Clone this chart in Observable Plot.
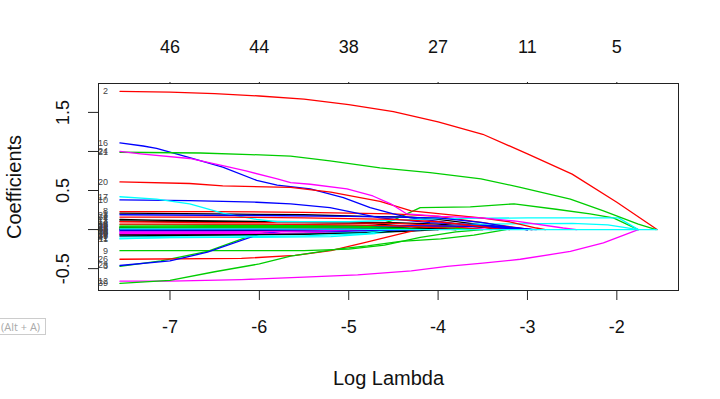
<!DOCTYPE html>
<html><head><meta charset="utf-8">
<script src="https://cdn.jsdelivr.net/npm/d3@7"></script>
<script src="https://cdn.jsdelivr.net/npm/@observablehq/plot@0.6"></script>
<style>
body{margin:0;background:#fff;}
#chart{position:relative;width:720px;height:399px;overflow:hidden;}
#alt{position:absolute;left:-4px;top:318px;height:15px;width:44px;padding:0 0 0 4px;border:1px solid #ccc;font:11px "Open Sans","Liberation Sans",Arial,sans-serif;color:#aaa;line-height:15px;background:#fff;white-space:nowrap;}
</style></head><body><div id="chart"><div id="alt">(Alt + A)</div></div>
<script>
// R matplot default colours (col = 1:6)
const palette = ["#000000", "#FF0000", "#00CD00", "#0000FF", "#00FFFF", "#FF00FF"];
const xTicks = [-7, -6, -5, -4, -3, -2];
const dfLabels = ["46", "44", "38", "27", "11", "5"];
const yTicks = [-0.5, 0, 0.5, 1, 1.5];
const yTickLabels = [-0.5, 0.5, 1.5];

// coefficient paths: [log lambda, coefficient]
const v1 = [[-7.56,0.21],[-6.5,0.20],[-5.5,0.19],[-4.8,0.17],[-4.3,0.16],[-4.0,0.13],[-3.5,0.06],[-3.0,0]];
const v2 = [[-7.56,1.77],[-7,1.76],[-6.5,1.74],[-6,1.71],[-5.5,1.67],[-5,1.60],[-4.5,1.51],[-4,1.38],[-3.5,1.22],[-3,0.97],[-2.5,0.71],[-2,0.35],[-1.55,0]];
const v3 = [[-7.56,-0.47],[-7.1,-0.40],[-6.58,-0.28],[-6.1,-0.08],[-5.8,0.0],[-5.65,0.03],[-4.7,0.05],[-4.5,0.12],[-4.2,0.28],[-3.64,0.29],[-3.15,0.33],[-2.68,0.26],[-2.3,0.20],[-2.04,0.15],[-1.76,0]];
const v4 = [[-7.56,-0.01],[-6.5,-0.01],[-5.5,-0.02],[-5.0,0.0],[-4.5,0.03],[-4.0,0.05],[-3.5,0.04],[-3.0,0]];
const v5 = [[-7.56,0.01],[-5.5,0.01],[-4.5,0.01],[-4.2,0]];
const v6 = [[-7.56,-0.04],[-6.5,-0.04],[-5.8,-0.03],[-5.2,0.01],[-4.8,0.04],[-4.3,0.05],[-3.8,0.03],[-3.4,0]];
const v7 = [[-7.56,0.13],[-7.2,0.12],[-6.5,0.11],[-5.5,0.10],[-4.5,0.09],[-4.0,0.07],[-3.5,0.03],[-3.3,0]];
const v8 = [[-7.56,0.23],[-6.5,0.23],[-5.5,0.22],[-4.5,0.20],[-4.0,0.17],[-3.5,0.09],[-3.1,0.02],[-2.95,0]];
const v9 = [[-7.56,-0.27],[-5.5,-0.27],[-5.0,-0.25],[-4.6,-0.20],[-4.2,-0.10],[-3.8,-0.03],[-3.5,0]];
const v10 = [[-7.56,0.38],[-6.78,0.37],[-6.03,0.35],[-5.65,0.33],[-5.21,0.28],[-4.65,0.15],[-4.09,0.09],[-3.52,0.06],[-3.1,0.02],[-2.95,0]];
const v11 = [[-7.56,-0.12],[-7.0,-0.10],[-6.0,-0.10],[-5.2,-0.09],[-4.7,-0.05],[-4.3,0.0],[-3.6,0.07],[-2.5,0.08],[-2.1,0.06],[-1.76,0]];
const v12 = [[-7.56,-0.66],[-7,-0.66],[-6.2,-0.64],[-5.5,-0.61],[-4.9,-0.58],[-4.3,-0.53],[-3.9,-0.47],[-3.5,-0.43],[-3.08,-0.38],[-2.52,-0.28],[-2.15,-0.17],[-1.76,0]];
const v13 = [[-7.56,0.11],[-6.6,0.10],[-5.5,0.09],[-4.8,0.08],[-4.3,0.04],[-4.0,0]];
const v14 = [[-7.56,0.10],[-6.5,0.09],[-5.5,0.09],[-4.5,0.08],[-4.1,0.06],[-3.7,0.02],[-3.5,0]];
const v15 = [[-7.56,0.06],[-6,0.06],[-5,0.05],[-4.5,0.05],[-4,0.03],[-3.6,0]];
const v16 = [[-7.56,1.11],[-7.3,1.07],[-7.15,1.04],[-6.78,0.92],[-6.41,0.80],[-6.03,0.63],[-5.8,0.57],[-5.43,0.52],[-5.06,0.41],[-4.76,0.28],[-4.5,0.20],[-4.31,0.15],[-3.75,0.07],[-3.3,0.03],[-2.9,0]];
const v17 = [[-7.56,0.42],[-7.15,0.39],[-6.78,0.33],[-6.41,0.21],[-6.03,0.13],[-5.8,0.10],[-5.0,0.10],[-4.5,0.12],[-4.0,0.14],[-3.0,0.15],[-1.98,0.15],[-1.76,0]];
const v18 = [[-7.56,-0.07],[-6.2,-0.06],[-5.5,-0.05],[-5.0,-0.02],[-4.7,0]];
const v19 = [[-7.56,-0.06],[-6.5,-0.06],[-5.5,-0.05],[-4.8,-0.04],[-4.3,-0.02],[-4.0,0]];
const v20 = [[-7.56,0.61],[-6.78,0.59],[-6.41,0.56],[-5.65,0.54],[-5.2,0.48],[-4.65,0.36],[-4.3,0.24],[-3.97,0.20],[-3.52,0.15],[-3.2,0.10],[-2.9,0.02],[-2.8,0]];
const v21 = [[-7.56,0.99],[-6.66,0.98],[-6.1,0.96],[-5.65,0.94],[-5.21,0.88],[-4.65,0.79],[-4.09,0.73],[-3.52,0.65],[-3.08,0.54],[-2.52,0.39],[-2.15,0.24],[-1.76,0.07],[-1.56,0]];
const v22 = [[-7.56,0.19],[-6,0.18],[-5,0.17],[-4.5,0.16],[-4,0.15],[-3.5,0.09],[-3.2,0.03],[-3.0,0]];
const v24 = [[-7.56,1.00],[-7.33,0.97],[-6.78,0.91],[-6.41,0.82],[-6.15,0.75],[-5.8,0.65],[-5.65,0.60],[-5.43,0.58],[-5.02,0.52],[-4.73,0.43],[-4.53,0.33],[-4.35,0.20],[-3.97,0.17],[-3.52,0.15],[-3.15,0.11],[-2.6,0.02],[-2.45,0]];
const v26 = [[-7.56,-0.38],[-6.2,-0.37],[-5.6,-0.33],[-5.2,-0.27],[-4.8,-0.16],[-4.4,-0.05],[-4.1,0.03],[-3.6,0.05],[-3.2,0]];
const v27 = [[-7.56,0.03],[-6,0.04],[-5,0.04],[-4.5,0.03],[-4.2,0]];
const v28 = [[-7.56,-0.46],[-7.0,-0.40],[-6.58,-0.29],[-6.0,-0.06],[-5.5,0.02],[-4.5,0.05],[-3.6,0.04],[-3.0,0]];
const v30 = [[-7.56,-0.05],[-6,-0.05],[-5,-0.04],[-4.4,0]];
const v31 = [[-7.56,0.0],[-6,-0.01],[-5,-0.01],[-4.5,0]];
const v32 = [[-7.56,0.16],[-6.5,0.16],[-5.5,0.15],[-4.5,0.13],[-4.0,0.10],[-3.6,0.05],[-3.3,0]];
const v33 = [[-7.56,0.04],[-6.5,0.05],[-5.5,0.05],[-4.8,0.04],[-4.3,0]];
const v34 = [[-7.56,-0.02],[-6,-0.02],[-5,-0.02],[-4.5,-0.01],[-4.2,0]];
const v35 = [[-7.56,-0.09],[-6.5,-0.08],[-5.5,-0.06],[-4.8,-0.03],[-4.4,0]];
const v36 = [[-7.56,-0.03],[-6.5,-0.03],[-5.5,-0.02],[-4.8,0]];
const v37 = [[-7.56,-0.08],[-6.5,-0.07],[-5.5,-0.06],[-4.8,-0.04],[-4.4,-0.01],[-4.2,0]];
const v38 = [[-7.56,0.07],[-6,0.07],[-5,0.06],[-4.5,0.05],[-4.0,0.02],[-3.8,0]];
const v39 = [[-7.56,-0.69],[-7,-0.65],[-6.5,-0.54],[-6,-0.44],[-5.65,-0.34],[-5.13,-0.25],[-4.79,-0.21],[-4.42,-0.15],[-3.97,-0.12],[-3.6,-0.07],[-3.24,0]];
const v41 = [[-7.56,-0.11],[-6.5,-0.10],[-5.5,-0.08],[-4.8,-0.05],[-4.5,0]];
const v43 = [[-7.56,0.02],[-6,0.02],[-5,0.02],[-4.5,0.02],[-4.0,0.01],[-3.8,0]];
const v44 = [[-7.56,0.01],[-5.5,0.01],[-4.6,0]];
const v45 = [[-7.56,0.02],[-6,0.03],[-5,0.03],[-4.6,0.02],[-4.1,0]];
const v46 = [[-7.56,0.0],[-5,0.0],[-4.5,-0.01],[-4.2,0]];
const v47 = [[-7.56,0.01],[-6,0.01],[-5,0.005],[-4.5,0],[-1.55,0]];

const series = [[1,v1],[2,v2],[3,v3],[4,v4],[5,v5],[6,v6],[7,v7],[8,v8],[9,v9],[10,v10],
  [11,v11],[12,v12],[13,v13],[14,v14],[15,v15],[16,v16],[17,v17],[18,v18],[19,v19],[20,v20],
  [21,v21],[22,v22],[24,v24],[26,v26],[27,v27],[28,v28],[30,v30],[31,v31],[32,v32],[33,v33],
  [34,v34],[35,v35],[36,v36],[37,v37],[38,v38],[39,v39],[41,v41],[43,v43],[44,v44],[45,v45],
  [46,v46],[47,v47]];

const rows = series.flatMap(([id, pts]) => pts.map(([x, y]) => ({id, x, y, color: palette[(id - 1) % 6]})));
const starts = series.map(([id, pts]) => ({id, x: pts[0][0], y: pts[0][1]}));
const dfMap = new Map(xTicks.map((t, i) => [t, dfLabels[i]]));
const font = "Liberation Sans, Arial, Helvetica, sans-serif";

const chart = Plot.plot({
  width: 720, height: 399,
  marginLeft: 98, marginRight: 42, marginTop: 83, marginBottom: 109,
  x: {domain: [-7.80, -1.31]},
  y: {domain: [-0.78, 1.87]},
  color: {type: "identity"},
  style: {fontFamily: font, background: "white", overflow: "visible"},
  marks: [
    Plot.line(rows, {x: "x", y: "y", z: "id", stroke: "color", strokeWidth: 1.3}),
    Plot.text(starts, {x: "x", y: "y", text: d => String(d.id), textAnchor: "end", dx: -12, fontSize: 9, fill: "#444"}),
    Plot.frame({stroke: "#222"}),
    Plot.axisX(xTicks, {anchor: "bottom", tickSize: 10, tickFormat: () => "", label: null, stroke: "#222"}),
    Plot.axisX(xTicks, {anchor: "top", tickSize: 2, tickFormat: () => "", label: null, stroke: "#222"}),
    Plot.axisY(yTicks, {anchor: "left", tickSize: 10, tickFormat: () => "", label: null, stroke: "#222"}),
    Plot.text(xTicks, {x: d => d, text: d => String(d), frameAnchor: "bottom", lineAnchor: "middle", dy: 37, fontSize: 18, fill: "#111"}),
    Plot.text(xTicks, {x: d => d, text: d => dfMap.get(d), frameAnchor: "top", lineAnchor: "middle", dy: -36, fontSize: 18, fill: "#111"}),
    Plot.text(yTickLabels, {y: d => d, text: d => String(d), frameAnchor: "left", textAnchor: "middle", lineAnchor: "middle", dx: -35, rotate: -90, fontSize: 18, fill: "#111"}),
    Plot.text(["Coefficients"], {text: d => d, frameAnchor: "left", textAnchor: "middle", lineAnchor: "middle", dx: -84, rotate: -90, fontSize: 20, fill: "#111"}),
    Plot.text(["Log Lambda"], {text: d => d, frameAnchor: "bottom", textAnchor: "middle", lineAnchor: "middle", dy: 88, fontSize: 20, fill: "#111"})
  ]
});
document.getElementById("chart").prepend(chart);
</script>
</body></html>
